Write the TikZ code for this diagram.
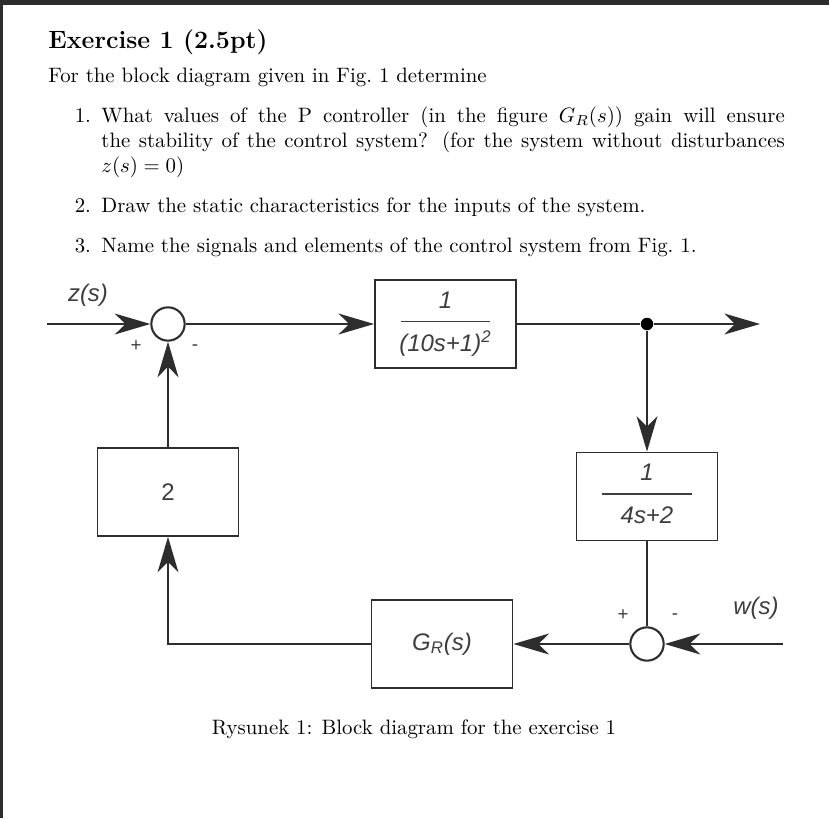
\documentclass[tikz,border=0pt]{standalone}
\usepackage{fontspec}
\usepackage{xcolor}
\usepackage{tikz}
\usetikzlibrary{arrows.meta}
\newfontfamily\diafont{Liberation Sans}
\definecolor{framegray}{RGB}{44, 44, 44}
\definecolor{wiregray}{RGB}{45, 45, 45}
\definecolor{labelgray}{RGB}{62, 62, 62}
\newcommand{\blockfrac}[2]{{\setlength{\arrayrulewidth}{0.7pt}%
  \begin{tabular}{@{}c@{}}#1\\[2pt]\hline\rule{0pt}{14pt}\makebox[43pt]{#2}\end{tabular}}}

\begin{document}
\begin{tikzpicture}[
  x=0.48pt, y=-0.48pt,
  block/.style={rectangle, draw=wiregray, line width=0.9pt, minimum width=67.7pt, minimum height=42.2pt,
               inner sep=0pt, text=labelgray, font=\diafont\itshape\fontsize{11.5}{13.8}\selectfont},
  sumpt/.style={circle, draw=wiregray, line width=1pt, fill=white, minimum size=16pt, inner sep=0pt},
  joint/.style={circle, fill=black, minimum size=6pt, inner sep=0pt},
  sig/.style={inner sep=0pt, text=labelgray, font=\diafont\itshape\fontsize{11.5}{13.8}\selectfont},
  sign/.style={inner sep=0pt, text=labelgray, font=\diafont\fontsize{9}{10}\selectfont},
  wire/.style={line width=1pt, draw=wiregray},
  arrow/.style={-{Stealth[length=17pt, width=10pt, inset=5pt]}, line width=1pt, draw=wiregray},
  para/.style={anchor=base west, inner sep=0pt, text width=328pt, align=justify}
]

% page frame
\fill[white] (0,0) rectangle (829,818);
\fill[framegray] (0,0) rectangle (829,5);
\fill[framegray] (0,0) rectangle (2.5,818);
\useasboundingbox (0,0) rectangle (829,818);

% exercise text
\node[anchor=base west, inner sep=0pt, font=\large\bfseries] (title) at (48,48) {Exercise 1 (2.5pt)};
\node[anchor=base west, inner sep=0pt] (intro) at (48,82) {For the block diagram given in Fig.~1 determine};
\node[para] (q1) at (101,122) {\llap{1.\hspace{5pt}}What values of the P controller (in the figure $G_R(s)$) gain will ensure\linebreak
  the stability of the control system? (for the system without disturbances\linebreak $z(s)=0$)};
\node[para] (q2) at (101,212) {\llap{2.\hspace{5pt}}Draw the static characteristics for the inputs of the system.};
\node[para] (q3) at (101,252) {\llap{3.\hspace{5pt}}Name the signals and elements of the control system from Fig.~1.};

% block diagram
\node[sumpt] (sum1) at (168,324) {};
\node[block] (plant) at (445.5,324) {\blockfrac{1}{(10s+1)\textsuperscript{2}}};
\node[joint] (split) at (647,324) {};
\node[block] (sensor) at (647,496.5) {\blockfrac{1}{4s+2}};
\node[sumpt] (sum2) at (647,644) {};
\node[block] (ctrl) at (442,644) {G\textsubscript{R}(s)};
\node[block, font=\diafont\fontsize{11.5}{13.8}\selectfont] (gain) at (168,492) {2};

\coordinate (zin) at (47,324);
\coordinate (yout) at (760,324);
\coordinate (win) at (783,644);

\node[sig] (zlab) at (88,295) {z(s)};
\node[sig] (wlab) at (756,608) {w(s)};
\node[sign] (plus1) at (136,346) {+};
\node[sign] (minus1) at (195,348) {-};
\node[sign] (plus2) at (623,615) {+};
\node[sign] (minus2) at (675,617) {-};

\draw[arrow] (zin) -- (sum1);
\draw[arrow] (sum1) -- (plant);
\draw[arrow] (plant) -- (split) -- (yout);
\draw[arrow] (split) -- (sensor);
\draw[wire] (sensor) -- (sum2);
\draw[arrow] (win) -- (sum2);
\draw[arrow] (sum2) -- (ctrl);
\draw[arrow] (ctrl) -| (gain);
\draw[arrow] (gain) -- (sum1);

\node[anchor=base, inner sep=0pt] (caption) at (414,734) {Rysunek 1: Block diagram for the exercise 1};

\end{tikzpicture}
\end{document}
